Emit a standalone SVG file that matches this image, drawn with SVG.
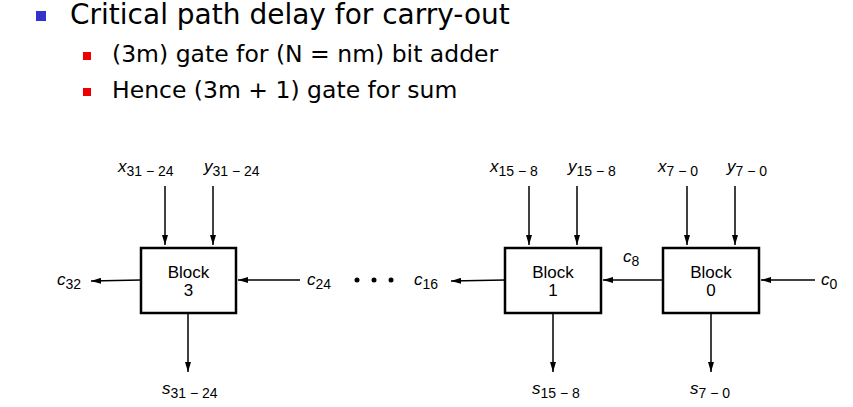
<svg xmlns="http://www.w3.org/2000/svg" width="853" height="407" viewBox="0 0 853 407">
<defs>
<marker id="ar" markerWidth="10" markerHeight="6" refX="10" refY="3" orient="auto" markerUnits="userSpaceOnUse"><path d="M0,0 L10,3 L0,6 z" fill="#000"/></marker>
<style>
.t{font-family:"Liberation Sans",Arial,sans-serif;fill:#000}
.h{font-family:Tahoma,"DejaVu Sans",sans-serif;fill:#000}
.b{fill:#fff;stroke:#000;stroke-width:2.5}
.c{stroke:#000;stroke-width:1.5;fill:none;marker-end:url(#ar)}
.v{font-size:17px;font-style:italic}
.s{font-size:14px;font-style:normal}
.l{font-size:17px}
</style>
</defs>
<rect x="36" y="11" width="10" height="10" fill="#3333cc"/>
<text class="h" x="70" y="24" font-size="28">Critical path delay for carry-out</text>
<rect x="83" y="52" width="8" height="8" fill="#ee0000"/>
<text class="h" x="112" y="62" font-size="23.5">(3m) gate for (N = nm) bit adder</text>
<rect x="83" y="88" width="8" height="8" fill="#ee0000"/>
<text class="h" x="112" y="98" font-size="23.5">Hence (3m + 1) gate for sum</text>
<g id="connectors">
<line class="c" x1="165" y1="186" x2="165" y2="245"/>
<line class="c" x1="213" y1="186" x2="213" y2="245"/>
<line class="c" x1="141" y1="280" x2="91" y2="281"/>
<line class="c" x1="300" y1="280" x2="238" y2="280"/>
<line class="c" x1="188" y1="313" x2="188" y2="372"/>
<line class="c" x1="529" y1="186" x2="529" y2="245"/>
<line class="c" x1="577" y1="186" x2="577" y2="245"/>
<line class="c" x1="505" y1="280" x2="451" y2="281"/>
<line class="c" x1="663" y1="280" x2="603" y2="280"/>
<line class="c" x1="553" y1="313" x2="553" y2="372"/>
<line class="c" x1="687" y1="186" x2="687" y2="245"/>
<line class="c" x1="735" y1="186" x2="735" y2="245"/>
<line class="c" x1="815" y1="280" x2="761" y2="280"/>
<line class="c" x1="711" y1="313" x2="711" y2="372"/>
</g>
<g id="block3"><rect class="b" x="141" y="248" width="95" height="65"/><text class="t l" x="188.5" y="278" text-anchor="middle">Block</text><text class="t l" x="188.5" y="296" text-anchor="middle">3</text></g>
<g id="block1"><rect class="b" x="505" y="248" width="96" height="65"/><text class="t l" x="553" y="278" text-anchor="middle">Block</text><text class="t l" x="553" y="296" text-anchor="middle">1</text></g>
<g id="block0"><rect class="b" x="663" y="248" width="96" height="65"/><text class="t l" x="711" y="278" text-anchor="middle">Block</text><text class="t l" x="711" y="296" text-anchor="middle">0</text></g>
<g id="labels" class="t">
<text class="t v" x="118" y="172">x<tspan class="s" dy="4">31 − 24</tspan></text>
<text class="t v" x="204" y="172">y<tspan class="s" dy="4">31 − 24</tspan></text>
<text class="t v" x="57" y="285">c<tspan class="s" dy="4">32</tspan></text>
<text class="t v" x="307" y="285">c<tspan class="s" dy="4">24</tspan></text>
<circle cx="357" cy="280" r="2.5"/><circle cx="374" cy="280" r="2.5"/><circle cx="391" cy="280" r="2.5"/>
<text class="t v" x="414" y="285">c<tspan class="s" dy="4">16</tspan></text>
<text class="t v" x="162" y="394">s<tspan class="s" dy="4">31 − 24</tspan></text>
<text class="t v" x="490" y="172">x<tspan class="s" dy="4">15 − 8</tspan></text>
<text class="t v" x="568" y="172">y<tspan class="s" dy="4">15 − 8</tspan></text>
<text class="t v" x="623" y="262">c<tspan class="s" dy="4">8</tspan></text>
<text class="t v" x="532" y="394">s<tspan class="s" dy="4">15 − 8</tspan></text>
<text class="t v" x="658" y="172">x<tspan class="s" dy="4">7 − 0</tspan></text>
<text class="t v" x="727" y="172">y<tspan class="s" dy="4">7 − 0</tspan></text>
<text class="t v" x="821" y="285">c<tspan class="s" dy="4">0</tspan></text>
<text class="t v" x="690" y="394">s<tspan class="s" dy="4">7 − 0</tspan></text>
</g>
</svg>
